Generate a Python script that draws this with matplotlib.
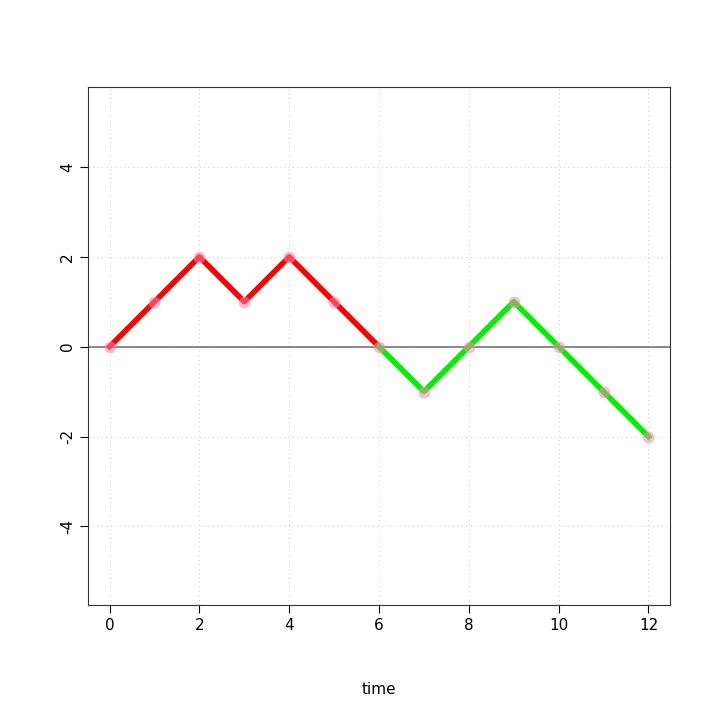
import matplotlib
matplotlib.use("Agg")
import matplotlib.pyplot as plt

time = list(range(13))
values = [0, 1, 2, 1, 2, 1, 0, -1, 0, 1, 0, -1, -2]
split = 6

fig = plt.figure(figsize=(7.16, 7.16), dpi=100)
ax = fig.add_axes([0.1229, 0.155, 0.8129, 0.7235])
ax.set_xlim(-0.48, 12.48)
ax.set_ylim(-5.75, 5.78)
for x in range(0, 13, 2):
    ax.axvline(x, color="#d3d3d3", ls=(0, (1, 3)), lw=0.8, zorder=0)
for y in range(-4, 5, 2):
    ax.axhline(y, color="#d3d3d3", ls=(0, (1, 3)), lw=0.8, zorder=0)
ax.axhline(0, color="#777777", lw=1.2, zorder=1)
ax.plot(time[:split + 1], values[:split + 1], color="#ff0000", lw=4, zorder=2)
ax.plot(time[split:], values[split:], color="#00ee00", lw=4, zorder=2)
ax.scatter(time, values, s=55, color="#ff88aa", alpha=0.5, zorder=3)
ax.set_xticks(range(0, 13, 2))
ax.set_yticks(range(-4, 5, 2))
ax.set_yticklabels([str(v) for v in range(-4, 5, 2)], rotation=90, va="center")
ax.tick_params(labelsize=11, length=6)
ax.set_xlabel("time", fontsize=11, labelpad=35)
for s in ax.spines.values():
    s.set_color("#333333")
fig.savefig("out.png", dpi=100)
